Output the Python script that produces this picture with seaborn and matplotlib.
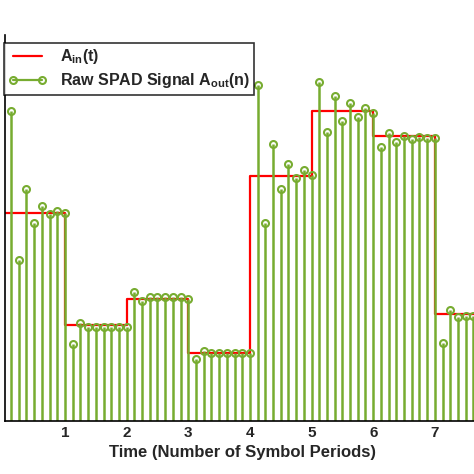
import numpy as np
import pandas as pd
import matplotlib
matplotlib.use('Agg')
import matplotlib.pyplot as plt
from matplotlib.lines import Line2D
import seaborn as sns

# symbol levels A_in(t), one per symbol period
levels = [4.84, 2.23, 2.85, 1.59, 5.71, 7.21, 6.64, 2.48]

# raw SPAD samples, 8 per period
raw = [7.21, 3.75, 5.40, 4.60, 5.00, 4.81, 4.89, 4.85,
       1.80, 2.27, 2.19, 2.19, 2.19, 2.19, 2.19, 2.19,
       3.00, 2.79, 2.88, 2.88, 2.88, 2.88, 2.88, 2.85,
       1.44, 1.62, 1.58, 1.58, 1.58, 1.58, 1.59, 1.59,
       7.83, 4.60, 6.45, 5.40, 5.98, 5.67, 5.84, 5.73,
       7.90, 6.74, 7.56, 6.98, 7.40, 7.09, 7.30, 7.17,
       6.38, 6.71, 6.50, 6.64, 6.57, 6.62, 6.58, 6.60,
       1.81, 2.59, 2.41, 2.45, 2.44]
samples_per_period = 8

sns.set_style('white')
plt.rcParams['font.family'] = ['Liberation Sans', 'DejaVu Sans']
plt.rcParams['mathtext.fontset'] = 'custom'
plt.rcParams['mathtext.bf'] = 'Liberation Sans:bold'
plt.rcParams['mathtext.rm'] = 'Liberation Sans:bold'
plt.rcParams['mathtext.it'] = 'Liberation Sans:bold'

fig = plt.figure(figsize=(4.74, 4.74), dpi=100)
ax = fig.add_axes([0.011, 0.112, 1.0, 0.815])

step_df = pd.DataFrame({'t': np.arange(len(levels) + 1),
                        'A': levels + [levels[-1]]})
sns.lineplot(data=step_df, x='t', y='A', drawstyle='steps-post', color='red',
             lw=1.6, ax=ax, legend=False)

t = np.arange(1, len(raw) + 1) / samples_per_period
green = '#77AC30'
ml, sl, bl = ax.stem(t, raw, linefmt='-', markerfmt='o', basefmt=' ')
plt.setp(sl, color=green, lw=1.8)
plt.setp(ml, markerfacecolor='none', markeredgecolor=green, markersize=5,
         markeredgewidth=1.5)

ax.set_xlim(0.03, 7.72)
ax.set_ylim(0, 9)
ax.set_xticks(range(1, 8))
ax.set_yticks(range(1, 9))
ax.set_yticklabels([])
ax.tick_params(direction='in', length=4, labelsize=11, width=1)
for lab in ax.get_xticklabels():
    lab.set_fontweight('bold')
ax.set_xlabel('Time (Number of Symbol Periods)', fontsize=12, fontweight='bold')
ax.set_ylabel('')
for s in ax.spines.values():
    s.set_color('black')
    s.set_linewidth(1.2)
ax.spines['top'].set_visible(False)
ax.spines['right'].set_visible(False)

h_red = Line2D([], [], color='red', lw=1.6)
h_stem = Line2D([0, 1], [0, 0], color=green, lw=1.6, marker='o', mfc='none',
                mec=green, markersize=5, markeredgewidth=1.5, markevery=[1])
leg = ax.legend([h_red, h_stem],
                [r'$\mathrm{A_{in}(t)}$', r'Raw SPAD Signal $\mathrm{A_{out}(n)}$'],
                loc='upper left', bbox_to_anchor=(-0.02, 1.0), frameon=True,
                fancybox=False, edgecolor='black', fontsize=11.5,
                borderpad=0.3, labelspacing=0.3, handlelength=2.4, numpoints=2)
leg.get_frame().set_linewidth(1.2)
for txt in leg.get_texts():
    txt.set_fontweight('bold')

fig.savefig('out.png', dpi=100)
